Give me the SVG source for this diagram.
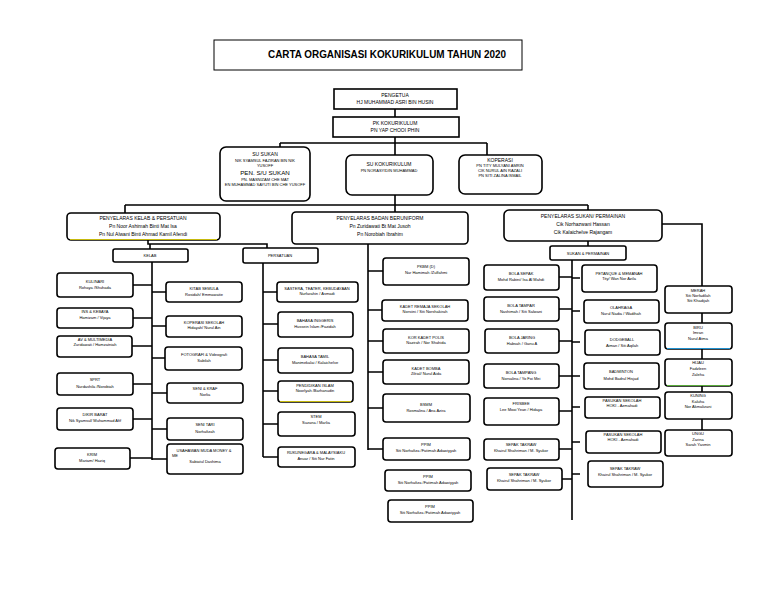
<svg xmlns="http://www.w3.org/2000/svg" width="768" height="594" viewBox="0 0 768 594">
<style>
.b{fill:#fff;stroke:#000;stroke-width:1.6}
.t{fill:none;stroke:#000;stroke-width:1}
.c{fill:none;stroke:#000;stroke-width:1.6}
text{font-family:"Liberation Sans",Arial,sans-serif;text-anchor:middle;fill:#000;font-size:4px}
.m{font-size:6.2px}
.h{font-size:5px}
</style>
<rect width="768" height="594" fill="#fff"/>
<g id="connectors">
<path class="c" d="M395 109V117M395 137V213M280 143H487M280 143V147M487 143V155M125 205H588M125 205V213M588 205V210M662 224H702V456"/>
<path class="c" d="M148 240V244H267V248M150 244V249M588 241V246"/>
<path class="c" d="M152 262V460M133 285H152M133 318H152M132 346H152M133 384H152M133 419H152M130 458H152M152 292H166M152 326H166M152 358H165M152 393H167M152 429H167M152 459H167"/>
<path class="c" d="M263 263V457M263 292H277M263 324H278M263 360H278M263 391H278M263 424H278M263 457H278"/>
<path class="c" d="M368 244V450M368 271H383M368 310H382M368 341H383M368 372H383M368 408H383M368 449H383"/>
<path class="c" d="M572 260V520M559 277H572M559 309H572M559 341H572M559 376H572M559 411H572M559 449H572M562 479H572M572 278H580M572 311H580M572 342H580M572 376H580M572 407H580M572 442H580M572 474H580"/>
</g>
<g id="title"><rect x="214" y="40" width="308" height="30" class="t"/><text x="387" y="58" textLength="238" lengthAdjust="spacingAndGlyphs" style="font-size:10.5px;font-weight:bold">CARTA ORGANISASI KOKURIKULUM TAHUN 2020</text></g>
<g id="pengetua"><rect x="334" y="89" width="123" height="20" class="b"/><text x="395" y="97" class="h">PENGETUA</text><text x="395" y="104" class="h">HJ MUHAMMAD ASRI BIN HUSIN</text></g>
<g id="pk"><rect x="333" y="117" width="126" height="20" class="b"/><text x="395" y="125" class="h">PK KOKURIKULUM</text><text x="395" y="132" class="h">PN YAP CHOOI PHIN</text></g>
<g id="susukan"><rect x="220" y="147" width="90" height="54" rx="6" class="b"/><text x="265" y="156" class="h">SU SUKAN</text><text x="265" y="162">NIK SYAMSUL FAZIRAN BIN NIK</text><text x="265" y="167">YUSOFF</text><text x="265" y="175" class="m">PEN. S/U SUKAN</text><text x="265" y="181">PN. MASNIZAM CHE MAT</text><text x="265" y="186">EN MUHAMMAD SAYUTI BIN CHE YUSOFF</text></g>
<g id="sukoku"><rect x="346" y="155" width="87" height="40" rx="6" class="b"/><text x="389" y="166" class="h">SU KOKURIKULUM</text><text x="389" y="172">PN NORASYIDIN MUHAMMAD</text></g>
<g id="koperasi"><rect x="459" y="155" width="83" height="39" rx="6" class="b"/><text x="500" y="162" class="h">KOPERASI</text><text x="500" y="167">PN TITY MULYANI AMRIN</text><text x="500" y="172">CIK NURUL AIN RAZALI</text><text x="500" y="177">PN SITI ZALINA ISMAIL</text></g>
<g id="pkelab"><rect x="67" y="213" width="153" height="27" rx="4" class="b"/><line x1="70" y1="239.5" x2="217" y2="239.5" stroke="#e8d800" stroke-width="0.8"/><text x="143" y="220" class="h">PENYELARAS KELAB &amp; PERSATUAN</text><text x="143" y="228" class="h">Pn Noor Ashimah Binti Mat Isa</text><text x="143" y="236" class="h">Pn Nul Alwani Binti Ahmad Kamil Afendi</text></g>
<g id="pbadan"><rect x="292" y="212" width="176" height="32" rx="4" class="b"/><text x="380" y="220" class="h">PENYELARAS BADAN BERUNIFORM</text><text x="380" y="228" class="h">Pn Zuridawati Bt Mat Jusoh</text><text x="380" y="236" class="h">Pn Norobiah Ibrahim</text></g>
<g id="psukan"><rect x="504" y="210" width="158" height="31" rx="5" class="b"/><text x="583" y="218" class="h">PENYELARAS SUKAN/ PERMAINAN</text><text x="583" y="226" class="h">Cik Norhazwani Hassan</text><text x="583" y="234" class="h">Cik Kalaichelve Rajangam</text></g>
<g id="kelab"><rect x="113" y="249" width="75" height="13" rx="2" class="b"/><text x="150" y="257">KELAB</text></g>
<g id="persatuan"><rect x="243" y="248" width="75" height="15" rx="2" class="b"/><text x="280" y="257">PERSATUAN</text></g>
<g id="sukanp"><rect x="550" y="246" width="76" height="14" rx="2" class="b"/><text x="588" y="255">SUKAN &amp; PERMAINAN</text></g>
<g id="kelab-items">
<rect x="57" y="273" width="76" height="24" rx="3" class="b"/><text x="95" y="283">KULINARI</text><text x="95" y="289">Rohaya /Shuhada</text>
<rect x="57" y="308" width="76" height="20" rx="3" class="b"/><text x="95" y="313">INS &amp; KEBAYA</text><text x="95" y="319">Hamizam / Vijaya</text>
<rect x="57" y="336" width="75" height="21" rx="3" class="b"/><text x="95" y="341">AV &amp; MULTIMEDIA</text><text x="95" y="346">Zuridawati / Hamzatniah</text>
<rect x="57" y="373" width="76" height="22" rx="3" class="b"/><text x="95" y="381">SPRT</text><text x="95" y="388">Nurdashila /Norobiah</text>
<rect x="57" y="408" width="76" height="22" rx="3" class="b"/><text x="95" y="416">DIKIR BARAT</text><text x="95" y="422">Nik Syamsul/ Muhammad Afif</text>
<rect x="55" y="448" width="75" height="21" rx="3" class="b"/><text x="92" y="456">KRIM</text><text x="92" y="462">Mariam/ Haziq</text>
<rect x="166" y="282" width="76" height="20" rx="3" class="b"/><text x="204" y="290">KITAB SEMULA</text><text x="204" y="296">Rosidah/ Emmawatie</text>
<rect x="166" y="316" width="76" height="21" rx="3" class="b"/><text x="204" y="324">KOPERASI SEKOLAH</text><text x="204" y="329">Hidayah/ Nurul Ain</text>
<rect x="165" y="347" width="77" height="23" rx="3" class="b"/><text x="204" y="356">FOTOGRAFI &amp; Videografi</text><text x="204" y="362">Sabilah</text>
<rect x="167" y="383" width="76" height="20" rx="3" class="b"/><text x="205" y="390">SENI &amp; KRAF</text><text x="205" y="396">Norlia</text>
<rect x="167" y="418" width="76" height="22" rx="3" class="b"/><text x="205" y="426">SENI TARI</text><text x="205" y="433">Norhafizah</text>
<rect x="167" y="444" width="76" height="30" rx="3" class="b"/><text x="204" y="452">USAHAWAN MUDA MONEY &amp;</text><text x="172" y="457" style="text-anchor:start">ME</text><text x="205" y="463">Sabiatul Dashima</text>
</g>
<g id="persatuan-items">
<rect x="277" y="282" width="81" height="20" rx="3" class="b"/><text x="317" y="290">SASTERA, TEATER, KEBUDAYAAN</text><text x="317" y="295">Nurfarahin / Asmadi</text>
<rect x="278" y="312" width="75" height="25" rx="3" class="b"/><text x="315" y="322">BAHASA INGGERIS</text><text x="315" y="328">Hussein Islam /Fazidah</text>
<rect x="278" y="348" width="75" height="25" rx="3" class="b"/><text x="315" y="358">BAHASA TAMIL</text><text x="315" y="364">Manimekalai / Kalaichelve</text>
<rect x="278" y="381" width="75" height="21" rx="3" class="b"/><line x1="280" y1="401.5" x2="351" y2="401.5" stroke="#e8d800" stroke-width="0.8"/><text x="315" y="387">PENDIDIKAN ISLAM</text><text x="315" y="392">Noorlyah /Barhanudin</text>
<rect x="278" y="412" width="77" height="24" rx="3" class="b"/><text x="316" y="418">STEM</text><text x="316" y="424">Suzana / Marlia</text>
<rect x="278" y="447" width="77" height="20" rx="3" class="b"/><text x="316" y="454">RUKUNEGARA &amp; MALAYSIAKU</text><text x="316" y="460">Anuar / Siti Nur Fatin</text>
</g>
<g id="uniform-items">
<rect x="383" y="258" width="86" height="27" rx="3" class="b"/><text x="426" y="268">PKBM (D)</text><text x="426" y="274">Nur Hamimah /Zulfahmi</text>
<rect x="382" y="300" width="86" height="21" rx="3" class="b"/><text x="425" y="308">KADET REMAJA SEKOLAH</text><text x="425" y="313">Norsiini / Siti Norshakirah</text>
<rect x="383" y="329" width="86" height="24" rx="3" class="b"/><text x="426" y="339">KOR KADET POLIS</text><text x="426" y="344">Nazirah / Nor Shahida</text>
<rect x="383" y="360" width="86" height="24" rx="3" class="b"/><text x="426" y="370">KADET BOMBA</text><text x="426" y="375">Zilrial/ Nurul Aida</text>
<rect x="383" y="394" width="87" height="28" rx="3" class="b"/><text x="426" y="406">BSMM</text><text x="426" y="412">Rosmalina / Ana Azira</text>
<rect x="383" y="438" width="87" height="22" rx="3" class="b"/><text x="426" y="446">PPIM</text><text x="426" y="452">Siti Norhafiza /Fatimah Adawiyyah</text>
<rect x="385" y="470" width="86" height="21" rx="3" class="b"/><text x="428" y="478">PPIM</text><text x="428" y="484">Siti Norhafiza /Fatimah Adawiyyah</text>
<rect x="388" y="500" width="85" height="22" rx="3" class="b"/><text x="430" y="508">PPIM</text><text x="430" y="514">Siti Norhafiza /Fatimah Adawiyyah</text>
</g>
<g id="sukan-items">
<rect x="484" y="265" width="75" height="25" rx="3" class="b"/><text x="521" y="275">BOLA SEPAK</text><text x="521" y="281">Mohd Rabini/ Isa Al Mahdi</text>
<rect x="484" y="297" width="75" height="24" rx="3" class="b"/><text x="521" y="307">BOLA TAMPAR</text><text x="521" y="313">Nashimah / Siti Salwani</text>
<rect x="485" y="329" width="74" height="24" rx="3" class="b"/><text x="522" y="339">BOLA JARING</text><text x="522" y="345">Habsah / Ganu A</text>
<rect x="484" y="364" width="75" height="24" rx="3" class="b"/><text x="521" y="374">BOLA TAMPANG</text><text x="521" y="380">Norsalina / Yo Foi Mei</text>
<rect x="484" y="398" width="75" height="27" rx="3" class="b"/><text x="521" y="405">FRISBEE</text><text x="521" y="411">Lee Mooi Yean / Hidaya</text>
<rect x="484" y="439" width="75" height="21" rx="3" class="b"/><text x="521" y="446">SEPAK TAKRAW</text><text x="521" y="452">Khairul Shahriman / M. Syukor</text>
<rect x="487" y="468" width="75" height="22" rx="3" class="b"/><text x="524" y="476">SEPAK TAKRAW</text><text x="524" y="482">Khairul Shahriman / M. Syukor</text>
<rect x="582" y="265" width="75" height="27" rx="3" class="b"/><text x="619" y="275">PETANQUE &amp; MEMANAH</text><text x="619" y="280">Tity/ Wan Nor Azila</text>
<rect x="584" y="300" width="75" height="23" rx="3" class="b"/><text x="621" y="309">OLAHRAGA</text><text x="621" y="315">Nurul Nadia / Wadihah</text>
<rect x="585" y="330" width="75" height="25" rx="3" class="b"/><text x="622" y="341">DODGEBALL</text><text x="622" y="347">Aiman / Siti Aqilah</text>
<rect x="584" y="363" width="75" height="26" rx="3" class="b"/><text x="621" y="373">BADMINTON</text><text x="621" y="380">Mohd Badrul Hisjad</text>
<rect x="585" y="397" width="75" height="21" rx="3" class="b"/><text x="622" y="402">PASUKAN SEKOLAH</text><text x="622" y="407">HOKI - Azmahadi</text>
<rect x="586" y="431" width="75" height="22" rx="3" class="b"/><text x="623" y="436">PASUKAN SEKOLAH</text><text x="623" y="441">HOKI - Azmahadi</text>
<rect x="588" y="461" width="75" height="26" rx="3" class="b"/><text x="625" y="470">SEPAK TAKRAW</text><text x="625" y="476">Khairul Shahriman / M. Syukor</text>
</g>
<g id="rumah">
<rect x="665" y="286" width="67" height="27" rx="3" class="b"/><text x="698" y="292">MERAH</text><text x="698" y="297">Siti Norfadilah</text><text x="698" y="302">Siti Khadijah</text>
<rect x="665" y="323" width="67" height="26" rx="3" class="b"/><line x1="667" y1="348.5" x2="730" y2="348.5" stroke="#1e9be0" stroke-width="0.9"/><text x="698" y="329">BIRU</text><text x="698" y="334">Imran</text><text x="698" y="340">Nurul Atma</text>
<rect x="665" y="359" width="67" height="27" rx="3" class="b"/><line x1="667" y1="385.5" x2="730" y2="385.5" stroke="#5cb83a" stroke-width="0.9"/><text x="698" y="364">HIJAU</text><text x="698" y="370">Fadzleen</text><text x="698" y="376">Zaleha</text>
<rect x="665" y="392" width="67" height="27" rx="3" class="b"/><text x="698" y="397">KUNING</text><text x="698" y="403">Kaluha</text><text x="698" y="408">Nor Akmalizani</text>
<rect x="665" y="430" width="67" height="26" rx="3" class="b"/><text x="698" y="435">UNGU</text><text x="698" y="441">Zarina</text><text x="698" y="446">Sarah Yasmin</text>
</g>
</svg>
